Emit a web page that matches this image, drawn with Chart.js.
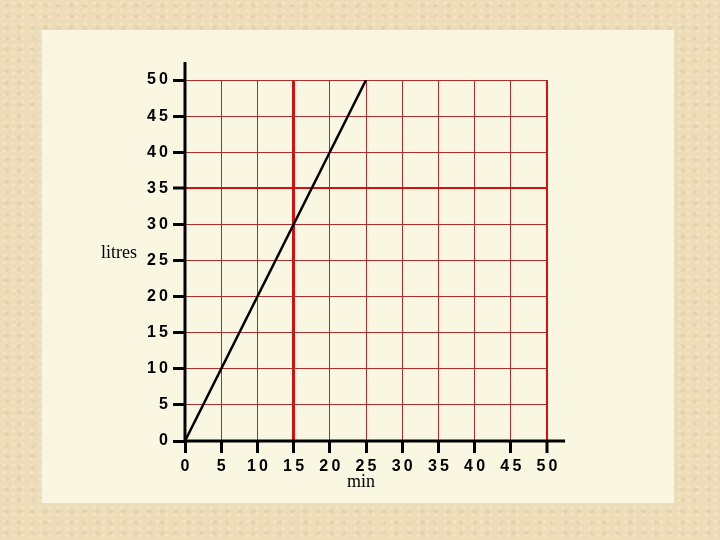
<!DOCTYPE html>
<html>
<head>
<meta charset="utf-8">
<script src="https://cdn.jsdelivr.net/npm/chart.js@4"></script>
<style>
  html, body { margin: 0; padding: 0; }
  body {
    width: 720px; height: 540px; position: relative; overflow: hidden;
    background-color: #ecdcb8;
    background-image:
      radial-gradient(rgba(255,255,255,0.22) 1.5px, transparent 2.5px),
      radial-gradient(rgba(170,140,90,0.12) 2px, transparent 3px);
    background-size: 9px 7px, 13px 11px;
  }
  #panel { position: absolute; left: 42px; top: 30px; width: 632px; height: 473px; background: #f9f7e1; }
  #graph { position: absolute; left: 0; top: 0; }
</style>
</head>
<body>
<div id="panel"></div>
<canvas id="graph" width="720" height="540"></canvas>
<script>
// water filling: minutes vs litres
var minutes = [0, 25];
var litres = [0, 50];
var xTicks = [0, 5, 10, 15, 20, 25, 30, 35, 40, 45, 50];
var yTicks = [0, 5, 10, 15, 20, 25, 30, 35, 40, 45, 50];

var points = minutes.map(function (m, i) { return { x: m, y: litres[i] }; });

function spaced(v) {
    return String(v).split('').join('\u2009');
}

var tickFont = { family: 'Liberation Sans', size: 16, weight: 'bold' };
var thinRed = '#b02c2c';
var boldRed = '#d41010';

// black axes drawn a bit past the last grid line, plus the axis words
var axesPlugin = {
    id: 'axes',
    afterDraw: function (chart) {
        var ctx = chart.ctx;
        var x = chart.scales.x, y = chart.scales.y;
        var x0 = x.getPixelForValue(0), y0 = y.getPixelForValue(0);
        ctx.save();
        ctx.strokeStyle = '#000';
        ctx.lineWidth = 3;
        ctx.beginPath();
        ctx.moveTo(x0, y0);
        ctx.lineTo(x.getPixelForValue(52.5), y0);
        ctx.moveTo(x0, y0);
        ctx.lineTo(x0, y.getPixelForValue(52.5));
        ctx.stroke();
        ctx.fillStyle = '#000';
        ctx.font = '18px "Liberation Serif"';
        ctx.textAlign = 'right';
        ctx.textBaseline = 'middle';
        ctx.fillText('litres', chart.chartArea.left - 48, y.getPixelForValue(25) - 7);
        ctx.textAlign = 'center';
        ctx.fillText('min', (chart.chartArea.left + chart.chartArea.right) / 2 - 5, y0 + 41);
        ctx.restore();
    }
};

new Chart(document.getElementById('graph').getContext('2d'), {
    type: 'scatter',
    data: {
        datasets: [{
            data: points,
            showLine: true,
            borderColor: '#000',
            borderWidth: 2.5,
            pointRadius: 0,
            fill: false
        }]
    },
    options: {
        responsive: false,
        animation: false,
        layout: { padding: { left: 125, right: 173, top: 80, bottom: 39 } },
        plugins: { legend: { display: false }, tooltip: { enabled: false } },
        scales: {
            x: {
                type: 'linear',
                min: 0, max: 50,
                afterFit: function (s) { s.height = 60; },
                afterBuildTicks: function (s) { s.ticks = xTicks.map(function (v) { return { value: v }; }); },
                border: { display: false },
                grid: {
                    color: function (c) { return c.tick && (c.tick.value === 15 || c.tick.value === 50) ? boldRed : thinRed; },
                    lineWidth: function (c) { return c.tick && c.tick.value === 15 ? 3 : (c.tick && c.tick.value === 50 ? 2 : 1); },
                    tickColor: '#000',
                    tickWidth: 3,
                    tickLength: 12
                },
                ticks: {
                    color: '#000',
                    font: tickFont,
                    padding: 4,
                    maxRotation: 0,
                    callback: function (v) { return spaced(v); }
                }
            },
            y: {
                type: 'linear',
                min: 0, max: 50,
                afterFit: function (s) { s.width = 60; },
                afterBuildTicks: function (s) { s.ticks = yTicks.map(function (v) { return { value: v }; }); },
                border: { display: false },
                grid: {
                    color: function (c) { return c.tick && c.tick.value === 35 ? boldRed : thinRed; },
                    lineWidth: function (c) { return c.tick && c.tick.value === 35 ? 2 : 1; },
                    tickColor: '#000',
                    tickWidth: 3,
                    tickLength: 12
                },
                ticks: {
                    color: '#000',
                    font: tickFont,
                    padding: 5,
                    callback: function (v) { return spaced(v); }
                }
            }
        }
    },
    plugins: [axesPlugin]
});
</script>
</body>
</html>
